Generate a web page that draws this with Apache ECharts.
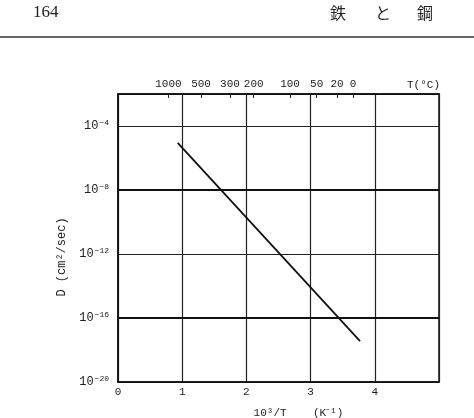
<!DOCTYPE html>
<html>
<head>
<meta charset="utf-8">
<script src="https://cdn.jsdelivr.net/npm/echarts@6/dist/echarts.min.js"></script>
<style>html,body{margin:0;padding:0;background:#fff;}#c{width:474px;height:418px;}</style>
</head>
<body>
<div id="c"></div>
<script>
// ---- data ----
const invT = [0.93, 3.77];            // 10^3/T (K^-1)
const diffD = [8.7e-6, 3.6e-18];      // D (cm^2/sec)
const bottomTicks = [0, 1, 2, 3, 4];
const yExponents = [-20, -16, -12, -8, -4];
const tempLabels = [1000, 500, 300, 200, 100, 50, 20, 0]; // T (°C)

const topValues = tempLabels.map(t => 1000 / (t + 273.15));
const lineData = invT.map((x, i) => [x, Math.log10(diffD[i])]);
const mono = 'Liberation Mono';

const chart = echarts.init(document.getElementById('c'), null, {renderer: 'canvas'});
chart.setOption({
  animation: false,
  backgroundColor: '#fff',
  grid: {left: 118, right: 35, top: 94, bottom: 36, show: true, borderColor: '#111', borderWidth: 1.5,
         containLabel: false, outerBoundsMode: 'none'},
  xAxis: [{
    type: 'value', position: 'bottom', min: 0, max: 5, interval: 1,
    axisLine: {show: true, lineStyle: {color: '#111', width: 1.5}},
    axisTick: {show: false},
    axisLabel: {
      color: '#222', fontFamily: mono, fontSize: 11, margin: 5,
      formatter: v => bottomTicks.includes(v) ? String(v) : ''
    },
    splitLine: {show: true, lineStyle: {color: '#222', width: 1.2}},
    name: '10³/T    (K⁻¹)', nameLocation: 'middle', nameGap: 26,
    nameTextStyle: {color: '#222', fontFamily: mono, fontSize: 11, padding: [0, 0, 0, 40]}
  }, {
    type: 'value', position: 'top', min: 0, max: 5,
    axisLine: {show: true, lineStyle: {color: '#111', width: 1.5}},
    axisTick: {show: true, inside: true, length: 4, customValues: topValues, lineStyle: {color: '#222'}},
    axisLabel: {
      color: '#222', fontFamily: mono, fontSize: 11, margin: 4, customValues: topValues,
      formatter: v => {
        let best = 0, bd = 1e9;
        topValues.forEach((tv, i) => { const d = Math.abs(tv - v); if (d < bd) { bd = d; best = i; } });
        return String(tempLabels[best]);
      }
    },
    splitLine: {show: false}
  }],
  yAxis: {
    type: 'value', min: -20, max: -2, interval: 4,
    axisLine: {show: true, lineStyle: {color: '#111', width: 1.5}},
    axisTick: {show: false},
    axisLabel: {
      margin: 9,
      formatter: v => yExponents.includes(v) ? '{b|10}{s|−' + Math.abs(v) + '}' : '',
      rich: {
        b: {fontFamily: mono, fontSize: 12, color: '#222'},
        s: {fontFamily: mono, fontSize: 8, color: '#222', verticalAlign: 'top', padding: [0, 0, 7, 1]}
      }
    },
    splitLine: {show: true, lineStyle: {color: '#222', width: 1}},
    name: 'D (cm²/sec)', nameLocation: 'middle', nameGap: 50, nameRotate: 90,
    nameTextStyle: {color: '#222', fontFamily: mono, fontSize: 12, padding: [0, 38, 0, 0]}
  },
  series: [{
    type: 'line', xAxisIndex: 0, data: lineData, symbol: 'none',
    lineStyle: {color: '#111', width: 1.8},
    markLine: {
      silent: true, symbol: 'none', label: {show: false},
      lineStyle: {color: '#111', width: 1.8, type: 'solid'},
      data: [{yAxis: -8}, {yAxis: -16}]
    }
  }],
  graphic: [
    {type: 'text', left: 33, top: 4, style: {text: '164', fontFamily: 'Liberation Serif', fontSize: 17, fill: '#222'}},
    {type: 'text', left: 330, top: 5, style: {text: '鉄', fontFamily: 'Noto Sans CJK JP', fontSize: 16, fill: '#222'}},
    {type: 'text', left: 375, top: 5, style: {text: 'と', fontFamily: 'Noto Sans CJK JP', fontSize: 16, fill: '#222'}},
    {type: 'text', left: 417, top: 5, style: {text: '鋼', fontFamily: 'Noto Sans CJK JP', fontSize: 16, fill: '#222'}},
    {type: 'line', shape: {x1: 0, y1: 37, x2: 474, y2: 37}, style: {stroke: '#333', lineWidth: 1.5}},
    {type: 'text', right: 34, top: 80, style: {text: 'T(°C)', fontFamily: mono, fontSize: 11, fill: '#222'}}
  ]
});
</script>
</body>
</html>
